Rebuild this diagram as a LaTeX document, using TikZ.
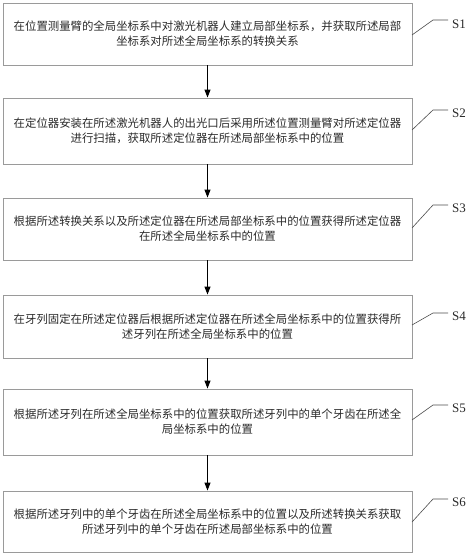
\documentclass[tikz,border=0pt]{standalone}
\usepackage{fontspec}
\newfontfamily\cjk{Noto Sans CJK SC}
\newfontfamily\lab{Liberation Serif}
\usetikzlibrary{arrows.meta}
\definecolor{boxgray}{HTML}{9A9A9A}
\definecolor{txt}{HTML}{2A2A2A}
\tikzset{
  stepbox/.style={draw=boxgray, line width=0.9pt, minimum width=409pt, text width=405pt,
    align=center, inner sep=0pt, font=\cjk\fontsize{11.4pt}{15pt}\selectfont, text=txt},
  flow/.style={line width=0.9pt, -{Triangle[length=8pt,width=6pt]}},
  leader/.style={draw=black!70, line width=0.6pt},
  steplab/.style={anchor=west, inner sep=0pt, font=\lab\fontsize{13pt}{15pt}\selectfont, text=txt}
}
\begin{document}
\begin{tikzpicture}[x=1pt,y=-1pt]
\useasboundingbox (0,0) rectangle (474,557);
\node[stepbox, minimum height=62pt] (b1) at (207.5,34) {在位置测量臂的全局坐标系中对激光机器人建立局部坐标系，并获取所述局部\\坐标系对所述全局坐标系的转换关系};
\node[stepbox, minimum height=66pt] (b2) at (207.5,131) {在定位器安装在所述激光机器人的出光口后采用所述位置测量臂对所述定位器\\进行扫描，获取所述定位器在所述局部坐标系中的位置};
\node[stepbox, minimum height=62pt] (b3) at (207.5,229) {根据所述转换关系以及所述定位器在所述局部坐标系中的位置获得所述定位器\\在所述全局坐标系中的位置};
\node[stepbox, minimum height=63pt] (b4) at (207.5,326.5) {在牙列固定在所述定位器后根据所述定位器在所述全局坐标系中的位置获得所\\述牙列在所述全局坐标系中的位置};
\node[stepbox, minimum height=66pt] (b5) at (207.5,422) {根据所述牙列在所述全局坐标系中的位置获取所述牙列中的单个牙齿在所述全\\局坐标系中的位置};
\node[stepbox, minimum height=61pt] (b6) at (207.5,521.5) {根据所述牙列中的单个牙齿在所述全局坐标系中的位置以及所述转换关系获取\\所述牙列中的单个牙齿在所述局部坐标系中的位置};
\foreach \a/\b in {b1/b2,b2/b3,b3/b4,b4/b5,b5/b6} \draw[flow] (\a.south) -- (\b.north);
% step labels
\foreach \i/\ys/\yk/\yl in {1/35/20/24, 2/130/110/113, 3/228/205/208, 4/325/313/316, 5/420/405/408, 6/522/499/502} {
  \coordinate (a\i) at (412,\ys);
  \coordinate (k\i) at (433,\yk);
  \coordinate (e\i) at (448,\yk);
  \node[steplab] (s\i) at (452,\yl) {S\i};
  \draw[leader] (a\i) -- (k\i) -- (e\i);
}
\end{tikzpicture}
\end{document}
